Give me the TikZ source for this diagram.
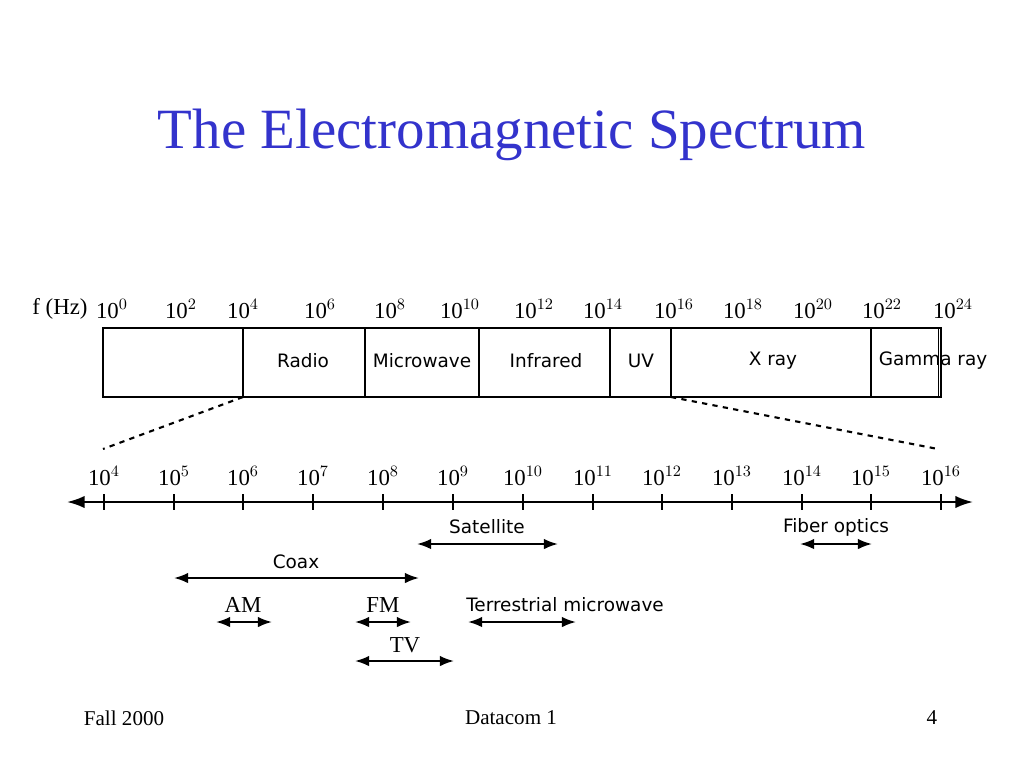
\documentclass[tikz,border=0pt]{standalone}
\usepackage{fontspec}
\setmainfont{Liberation Serif}
\setsansfont{DejaVu Sans}
\usetikzlibrary{arrows.meta}
\definecolor{titleblue}{RGB}{51,51,204}

\tikzset{
  band/.style={font=\sffamily\fontsize{10.5}{13}\selectfont},
  power/.style={font=\fontsize{13}{15}\selectfont},
  span/.style={very thick,{Latex[length=8pt,width=6pt]}-{Latex[length=8pt,width=6pt]}},
  foot/.style={font=\fontsize{12}{14}\selectfont}
}

\begin{document}
\begin{tikzpicture}[x=0.02cm,y=-0.02cm]
\useasboundingbox (0,0) rectangle (1024,768);
\node[titleblue,font=\fontsize{32.4}{38}\selectfont] (title) at (512,135) {The Electromagnetic Spectrum};

% upper scale
\node[power] (fhz) at (60,309) {f (Hz)};
\foreach \e/\x in {0/112,2/181,4/243,6/320,8/390,10/460,12/534,14/603,16/674,18/743,20/813,22/882,24/953}
  \node[power] (top\e) at (\x,309) {$\mathrm{10}^{\e}$};
\draw[very thick] (103,328) rectangle (941,397);
\draw (938,328) -- (938,397);
\foreach \x in {243,365,479,610,671,871}
  \draw[very thick] (\x,328) -- (\x,397);
\node[band] (radio) at (303,361) {Radio};
\node[band] (micro) at (422,361) {Microwave};
\node[band] (ir) at (546,361) {Infrared};
\node[band] (uv) at (641,361) {UV};
\node[band] (xray) at (773,361) {X ray};
\node[band] (gamma) at (933,361) {Gamma ray};

% zoom lines
\coordinate (za) at (243,397);
\coordinate (zb) at (671,397);
\coordinate (zc) at (103,449);
\coordinate (zd) at (938,449);
\draw[very thick,dashed] (za) -- (zc);
\draw[very thick,dashed] (zb) -- (zd);

% lower scale
\coordinate (axl) at (67,502);
\coordinate (axr) at (973,502);
\draw[very thick,{Latex[length=10pt,width=7pt]}-{Latex[length=10pt,width=7pt]}] (axl) -- (axr);
\foreach \e/\x in {4/104,5/174,6/243,7/313,8/383,9/453,10/523,11/593,12/662,13/732,14/802,15/871,16/941}{
  \draw[very thick] (\x,494) -- (\x,510);
  \node[power] (low\e) at (\x,476) {$\mathrm{10}^{\e}$};
}

% media
\node[band] (sat) at (487,527) {Satellite};
\draw[span] (417,544) -- (558,544);
\node[band] (fiber) at (836,527) {Fiber optics};
\draw[span] (800,544) -- (872,544);
\node[band] (coax) at (296,562) {Coax};
\draw[span] (174,578) -- (419,578);
\node[power] (am) at (243,605) {AM};
\draw[span] (216,622) -- (272,622);
\node[power] (fm) at (383,605) {FM};
\draw[span] (355,622) -- (411,622);
\node[band] (terr) at (565,605) {Terrestrial microwave};
\draw[span] (468,622) -- (576,622);
\node[power] (tv) at (405,645) {TV};
\draw[span] (355,661) -- (454,661);

% footer
\node[foot] (fall) at (124,718) {Fall 2000};
\node[foot] (datacom) at (511,718) {Datacom 1};
\node[foot] (page) at (932,718) {4};
\end{tikzpicture}
\end{document}
